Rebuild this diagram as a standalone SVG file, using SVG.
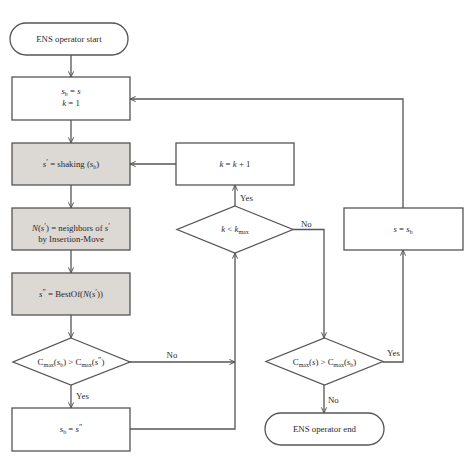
<svg xmlns="http://www.w3.org/2000/svg" width="474" height="474" viewBox="0 0 474 474">
<style>
.n{fill:#fff;stroke:#555;stroke-width:1.3}
.g{fill:#dcd8d4;stroke:#555;stroke-width:1.3}
.c{fill:none;stroke:#555;stroke-width:1.3}
text{font-family:"Liberation Serif","DejaVu Serif",serif;font-size:8.8px;fill:#2a2a2a;text-anchor:middle}
.i{font-style:italic}
.sub{font-size:6px}
.p{font-size:8px}
.lbl{text-anchor:start}
</style>
<defs>
<marker id="a" viewBox="0 0 8 8" refX="7.5" refY="4" markerWidth="7" markerHeight="7" markerUnits="userSpaceOnUse" orient="auto">
<path d="M1,1 L7.5,4 L1,7" fill="none" stroke="#555" stroke-width="1.1"/>
</marker>
</defs>
<rect width="474" height="474" fill="#fff"/>
<g id="connectors">
<path class="c" d="M71,55 V77" marker-end="url(#a)"/>
<path class="c" d="M71,120 V143" marker-end="url(#a)"/>
<path class="c" d="M71,185 V208" marker-end="url(#a)"/>
<path class="c" d="M71,250 V273" marker-end="url(#a)"/>
<path class="c" d="M71,315 V338" marker-end="url(#a)"/>
<path class="c" d="M71,385 V408" marker-end="url(#a)"/>
<text class="lbl" x="76" y="399">Yes</text>
<path class="c" d="M130,362 H235" marker-end="url(#a)"/>
<text x="172" y="358">No</text>
<path class="c" d="M130,429 H235 V253" marker-end="url(#a)"/>
<path class="c" d="M235,206 V185" marker-end="url(#a)"/>
<text class="lbl" x="240" y="201">Yes</text>
<path class="c" d="M176,164 H130" marker-end="url(#a)"/>
<path class="c" d="M293,229.5 H324 V338" marker-end="url(#a)"/>
<text class="lbl" x="301" y="227">No</text>
<path class="c" d="M383,362 H403 V250" marker-end="url(#a)"/>
<text class="lbl" x="387" y="356">Yes</text>
<path class="c" d="M403,208 V99 H130" marker-end="url(#a)"/>
<path class="c" d="M324,385 V413" marker-end="url(#a)"/>
<text class="lbl" x="328" y="403">No</text>
</g>
<g id="start">
<rect class="n" x="10" y="23" width="118" height="32" rx="16"/>
<text x="69" y="42">ENS operator start</text>
</g>
<g id="init">
<rect class="n" x="12" y="77" width="118" height="43"/>
<text x="71" y="94"><tspan class="i">s</tspan><tspan class="sub" dy="2">b</tspan><tspan dy="-2"> = </tspan><tspan class="i">s</tspan></text>
<text x="71" y="106"><tspan class="i">k</tspan> = 1</text>
</g>
<g id="shaking">
<rect class="g" x="12" y="143" width="118" height="42"/>
<text x="71" y="167"><tspan class="i">s</tspan><tspan dy="-2" class="p">′</tspan><tspan dy="2"> = shaking (</tspan><tspan class="i">s</tspan><tspan class="sub" dy="2">b</tspan><tspan dy="-2">)</tspan></text>
</g>
<g id="neighbors">
<rect class="g" x="12" y="208" width="118" height="42"/>
<text x="71" y="231"><tspan class="i">N</tspan>(<tspan class="i">s</tspan><tspan dy="-2" class="p">′</tspan><tspan dy="2">) = neighbors of </tspan><tspan class="i">s</tspan><tspan dy="-2" class="p">′</tspan></text>
<text x="71" y="242">by Insertion-Move</text>
</g>
<g id="bestof">
<rect class="g" x="12" y="273" width="118" height="42"/>
<text x="71" y="297"><tspan class="i">s</tspan><tspan dy="-2" class="p">″</tspan><tspan dy="2"> = BestOf(</tspan><tspan class="i">N</tspan>(<tspan class="i">s</tspan><tspan dy="-2" class="p">′</tspan><tspan dy="2">))</tspan></text>
</g>
<g id="cmp1">
<polygon class="n" points="71,338 130,362 71,385 13,362"/>
<text x="71" y="365">C<tspan class="sub" dy="2">max</tspan><tspan dy="-2">(</tspan><tspan class="i">s</tspan><tspan class="sub" dy="2">b</tspan><tspan dy="-2">) &gt; C</tspan><tspan class="sub" dy="2">max</tspan><tspan dy="-2">(</tspan><tspan class="i">s</tspan><tspan dy="-2" class="p">″</tspan><tspan dy="2">)</tspan></text>
</g>
<g id="update">
<rect class="n" x="12" y="408" width="118" height="43"/>
<text x="71" y="432"><tspan class="i">s</tspan><tspan class="sub" dy="2">b</tspan><tspan dy="-2"> = </tspan><tspan class="i">s</tspan><tspan dy="-2" class="p">″</tspan></text>
</g>
<g id="inc">
<rect class="n" x="176" y="143" width="118" height="42"/>
<text x="235" y="167"><tspan class="i">k</tspan> = <tspan class="i">k</tspan> + 1</text>
</g>
<g id="cmpk">
<polygon class="n" points="235,206 293,229.5 235,253 177,229.5"/>
<text x="235" y="232"><tspan class="i">k</tspan> &lt; <tspan class="i">k</tspan><tspan class="sub" dy="2">max</tspan></text>
</g>
<g id="assign">
<rect class="n" x="344" y="208" width="119" height="42"/>
<text x="403" y="232"><tspan class="i">s</tspan> = <tspan class="i">s</tspan><tspan class="sub" dy="2">b</tspan></text>
</g>
<g id="cmp2">
<polygon class="n" points="324.5,338 383,361.5 324.5,385 266,361.5"/>
<text x="324.5" y="364.5">C<tspan class="sub" dy="2">max</tspan><tspan dy="-2">(</tspan><tspan class="i">s</tspan>) &gt; C<tspan class="sub" dy="2">max</tspan><tspan dy="-2">(</tspan><tspan class="i">s</tspan><tspan class="sub" dy="2">b</tspan><tspan dy="-2">)</tspan></text>
</g>
<g id="end">
<rect class="n" x="265" y="413" width="119" height="32" rx="16"/>
<text x="324.5" y="432">ENS operator end</text>
</g>
</svg>
